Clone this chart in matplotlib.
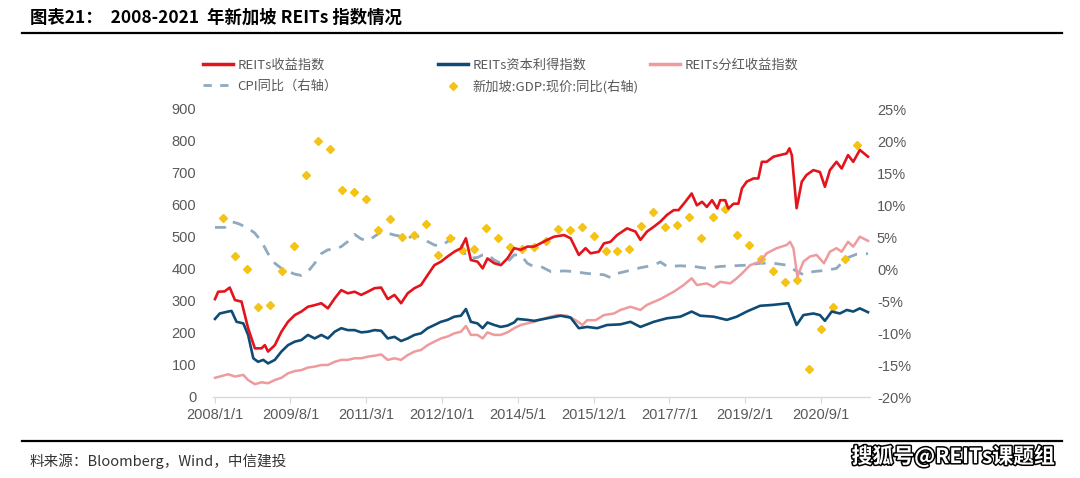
import matplotlib
matplotlib.use("Agg")
import matplotlib.pyplot as plt
import matplotlib.patheffects as pe
from matplotlib.lines import Line2D

plt.rcParams['font.family'] = ['Liberation Sans', 'Noto Sans CJK SC', 'DejaVu Sans']

# ---- data: x = months since 2008/1/1 ----
tick_pos = [0, 19, 38, 57, 76, 95, 114, 133, 152]
tick_labels = ['2008/1/1', '2009/8/1', '2011/3/1', '2012/10/1', '2014/5/1',
               '2015/12/1', '2017/7/1', '2019/2/1', '2020/9/1']

# REITs收益指数 (left axis)
red_m = [0.1, 0.9, 2.5, 3.8, 5.1, 6.75, 8.4, 10.1, 11.75, 12.6, 13.4, 15.1, 16.75, 18.4,
         20.1, 21.75, 23.4, 25.1, 26.75, 28.4, 30.1, 31.75, 33.4, 35.1, 36.75, 38.4, 40.1,
         41.75, 43.4, 45.1, 46.75, 48.4, 50.1, 51.75, 53.4, 55.1, 56.75, 58.4, 60.1, 61.75,
         63.0, 64.25, 65.9, 67.2, 68.4, 70.1, 71.75, 73.4, 75.1, 76.75, 78.4, 80.1, 83.4,
         85.1, 87.6, 89.25, 91.3, 93.0, 94.25, 96.3, 97.6, 99.25, 100.9, 103.4, 105.5,
         106.75, 108.4, 110.1, 111.75, 113.4, 115.1, 116.3, 118.0, 119.6, 120.9, 122.2,
         123.4, 124.7, 126.0, 126.75, 128.0, 128.8, 130.1, 131.3, 132.2, 133.4, 135.1,
         136.3, 137.2, 138.4, 140.1, 141.75, 143.4, 144.1, 144.7, 145.9, 147.2, 148.4,
         150.1, 151.75, 153.0, 154.25, 155.9, 157.2, 158.8, 160.1, 161.75, 163.8]
red_v = [306, 329, 330, 342, 303, 298, 215, 152, 152, 162, 142, 162, 204, 235,
         256, 267, 282, 287, 293, 277, 308, 334, 324, 329, 319, 329, 340,
         342, 306, 319, 293, 324, 340, 350, 381, 412, 423, 439, 454, 465,
         496, 428, 423, 402, 433, 418, 412, 433, 465, 460, 470, 470, 491,
         501, 506, 496, 444, 465, 449, 454, 480, 485, 506, 527, 517,
         491, 517, 532, 548, 569, 584, 584, 610, 636, 599, 610,
         594, 615, 589, 615, 615, 589, 604, 604, 652, 673, 683,
         683, 735, 735, 751, 756, 761, 777, 756, 590, 673, 694,
         709, 703, 657, 709, 735, 714, 756, 735, 772, 751]

# REITs资本利得指数 (left axis)
blue_m = [0.1, 1.3, 3.4, 4.25, 5.5, 7.2, 8.4, 9.7, 10.9, 12.2, 13.4, 15.1, 16.75, 18.4,
          20.1, 21.75, 23.4, 25.1, 26.75, 28.4, 30.1, 31.75, 33.4, 35.1, 36.75, 38.4,
          40.1, 41.75, 43.4, 45.1, 46.75, 48.4, 50.1, 51.75, 53.4, 55.1, 56.75, 58.4,
          60.1, 61.75, 63.0, 64.25, 65.9, 67.2, 68.4, 70.1, 71.75, 73.4, 75.1, 75.9,
          78.4, 80.1, 83.4, 86.75, 89.25, 91.3, 93.4, 95.9, 98.4, 101.75, 104.25, 106.75,
          110.1, 113.4, 116.75, 119.6, 121.75, 125.1, 128.4, 130.9, 133.4, 136.75, 140.1,
          143.8, 145.9, 147.6, 150.1, 151.75, 153.0, 154.7, 156.75, 158.5, 160.1, 161.75,
          163.8]
blue_v = [244, 261, 267, 269, 235, 230, 194, 121, 110, 116, 105, 116, 142, 162,
          173, 178, 194, 183, 194, 183, 204, 215, 209, 209, 202, 204,
          209, 207, 183, 188, 175, 183, 194, 199, 215, 225, 235, 241,
          251, 254, 275, 235, 230, 215, 233, 225, 219, 223, 233, 244,
          241, 238, 246, 254, 248, 215, 219, 215, 225, 227, 235, 219,
          235, 246, 251, 267, 254, 251, 241, 251, 267, 285, 288,
          293, 225, 256, 261, 256, 238, 267, 261, 272, 267, 277,
          265]

# REITs分红收益指数 (left axis)
pink_m = [0.1, 3.4, 5.1, 7.2, 8.4, 10.1, 11.75, 13.4, 15.1, 16.75, 18.4, 20.1, 21.75,
          23.4, 25.1, 26.75, 28.4, 30.1, 31.75, 33.4, 35.1, 36.75, 38.4, 40.1, 41.75,
          43.4, 45.1, 46.75, 48.4, 50.1, 51.75, 53.4, 55.1, 56.75, 58.4, 60.1, 61.75,
          63.0, 64.25, 65.9, 67.2, 68.4, 70.1, 71.75, 73.4, 75.1, 76.75, 78.4, 80.1,
          83.4, 85.9, 88.4, 90.5, 92.2, 93.4, 95.5, 97.6, 100.1, 101.75, 104.25, 106.75,
          108.4, 111.75, 115.1, 117.6, 119.6, 120.9, 123.4, 125.1, 126.75, 129.25, 130.9,
          132.2, 134.25, 136.75, 138.4, 140.9, 143.4, 144.25, 145.1, 146.1, 147.6, 149.25,
          150.9, 152.75, 154.25, 155.9, 157.2, 158.8, 160.1, 161.75, 163.8]
pink_v = [60, 71, 64, 69, 53, 40, 46, 43, 53, 60, 74, 81, 84,
          92, 95, 100, 100, 110, 116, 116, 121, 121, 126, 129, 133,
          116, 121, 116, 131, 142, 147, 162, 173, 183, 189, 199, 204,
          222, 194, 194, 183, 202, 194, 194, 202, 215, 225, 230, 235,
          248, 256, 254, 240, 225, 240, 240, 256, 261, 272, 282, 272,
          288, 306, 329, 350, 371, 350, 355, 344, 360, 355, 371,
          386, 412, 423, 449, 465, 475, 485, 465, 376, 423, 439,
          444, 418, 454, 465, 454, 485, 470, 501, 488]

# CPI同比 (right axis, %)
cpi_m = [0.1, 2.6, 4.25, 5.9, 8.4, 10.1, 11.75, 13.4, 15.1, 16.75, 18.4, 20.1, 21.75,
         23.4, 25.1, 26.75, 28.4, 30.1, 31.75, 33.4, 35.1, 36.75, 38.4, 40.1, 41.75,
         43.4, 45.1, 46.75, 48.4, 50.1, 51.75, 53.4, 55.1, 56.75, 58.4, 60.1, 61.75,
         63.0, 64.25, 65.9, 67.2, 68.4, 70.1, 71.75, 73.4, 75.1, 76.75, 78.4, 79.25,
         81.75, 84.25, 87.6, 90.1, 93.4, 97.6, 99.25, 100.9, 104.25, 106.75, 110.1,
         111.75, 113.4, 116.75, 120.1, 123.4, 126.75, 130.1, 133.4, 136.75, 140.1, 143.4,
         145.5, 147.6, 150.1, 153.4, 155.9, 158.4, 160.9, 163.8]
cpi_v = [6.5, 6.5, 7.4, 7.1, 6.4, 5.6, 4.3, 2.4, 0.9, 0.1, -0.4, -0.8, -1.0,
         -0.4, 0.9, 2.4, 3.0, 3.1, 3.5, 4.3, 5.4, 4.7, 4.4, 5.1, 5.8,
         5.6, 5.3, 5.1, 4.8, 5.3, 4.9, 4.3, 3.75, 3.6, 4.3, 4.8, 4.0,
         1.9, 1.7, 1.8, 2.2, 2.3, 1.4, 0.9, 1.1, 2.2, 2.2, 0.9, 0.6,
         0.4, -0.4, -0.3, -0.4, -0.7, -0.9, -1.35, -0.7, -0.2, 0.2, 0.6,
         1.1, 0.4, 0.5, 0.4, 0.1, 0.4, 0.5, 0.6, 0.9, 0.9, 0.6,
         -0.2, -0.9, -0.4, -0.2, 0.1, 1.7, 2.3, 2.4]

# 新加坡:GDP:现价:同比 (right axis, %), quarterly from 2008/3
gdp_m = list(range(2, 162, 3))
gdp_v = [8.0, 2.1, 0.0, -6.0, -5.7, -0.3, 3.6, 14.7, 20.0, 18.75, 12.4, 12.1, 10.9,
         6.1, 7.8, 5.05, 5.3, 7.1, 2.2, 4.9, 3.0, 3.2, 6.35, 4.8, 3.5, 3.1,
         3.5, 4.4, 6.25, 6.1, 6.6, 5.2, 2.8, 2.8, 3.2, 6.7, 8.85, 6.5, 6.9, 8.2,
         4.9, 8.1, 9.4, 5.3, 3.75, 1.6, -0.3, -2.0, -1.7, -15.6, -9.4, -6.0, 1.6, 19.4]

RED = '#E3141B'
BLUE = '#0F4C75'
PINK = '#EF9A9C'
CPI_C = '#8FA9BF'
GOLD = '#F3C316'
GRAY = '#595959'

fig = plt.figure(figsize=(10.8, 4.78), dpi=100)
ax = fig.add_axes([213 / 1080, 1 - 397 / 478, 657 / 1080, 288 / 478])
ax2 = ax.twinx()

ax2.plot(cpi_m, cpi_v, color=CPI_C, lw=2.0, dashes=(4, 3.2), zorder=1)
ax2.plot(gdp_m, gdp_v, ls='none', marker='D', ms=3.7, color=GOLD, mec=GOLD, zorder=2)
ax.set_zorder(ax2.get_zorder() + 1)
ax.patch.set_visible(False)
ax.plot(pink_m, pink_v, color=PINK, lw=1.8)
ax.plot(blue_m, blue_v, color=BLUE, lw=1.9)
ax.plot(red_m, red_v, color=RED, lw=1.9)

ax.set_xlim(-0.4, 164.3)
ax.set_ylim(0, 900)
ax.set_yticks(range(0, 901, 100))
ax2.set_ylim(-20, 25)
ax2.set_yticks(range(-20, 26, 5))
ax2.set_yticklabels([f'{v}%' for v in range(-20, 26, 5)])
ax.set_xticks(tick_pos)
ax.set_xticklabels(tick_labels)

for a in (ax, ax2):
    for s in ('top', 'left', 'right', 'bottom'):
        a.spines[s].set_visible(False)
ax.spines['bottom'].set_visible(True)
ax.spines['bottom'].set_color('#D9D9D9')
ax.spines['bottom'].set_linewidth(1.0)
ax.tick_params(axis='x', colors='#D9D9D9', length=4, direction='out', labelcolor=GRAY,
               labelsize=10.5, pad=4)
ax.tick_params(axis='y', length=0, labelcolor=GRAY, labelsize=10.5, pad=12)
ax2.tick_params(axis='y', length=0, labelcolor=GRAY, labelsize=10.5, pad=5)

# legend: three columns placed separately
legend_cols = [
    ([Line2D([], [], color=RED, lw=2.5), Line2D([], [], color=CPI_C, lw=2.0, dashes=(3, 3))],
     ['REITs收益指数', 'CPI同比（右轴）'], 191),
    ([Line2D([], [], color=BLUE, lw=2.5), Line2D([], [], ls='none', marker='D', ms=3.7, color=GOLD)],
     ['REITs资本利得指数', '新加坡:GDP:现价:同比(右轴)'], 426),
    ([Line2D([], [], color=PINK, lw=2.5)], ['REITs分红收益指数'], 638),
]
for hs, ls, x0 in legend_cols:
    leg = fig.legend(hs, ls, loc='upper left', bbox_to_anchor=(x0 / 1080, 1 - 47 / 478),
                     frameon=False, prop={'family': ['Noto Sans CJK SC'], 'size': 9.5},
                     handlelength=2.3, handletextpad=0.3, labelspacing=0.62)
    for t in leg.get_texts():
        t.set_color(GRAY)

# title, rules, source, watermark
fig.text(30 / 1080, 1 - 18 / 478, '图表21：  2008-2021  年新加坡 REITs 指数情况', ha='left', va='center',
         family=['Noto Sans CJK SC'], fontweight='bold', fontsize=12.5, color='black')
fig.add_artist(Line2D([22 / 1080, 1062 / 1080], [1 - 33 / 478, 1 - 33 / 478], color='black', lw=1.6))
fig.add_artist(Line2D([22 / 1080, 1062 / 1080], [1 - 441 / 478, 1 - 441 / 478], color='black', lw=1.6))
fig.text(30 / 1080, 1 - 461 / 478, '料来源：Bloomberg，Wind，中信建投', ha='left', va='center',
         family=['Noto Sans CJK SC'], fontsize=10.5, color='#333333', style='italic')
fig.text(1055 / 1080, 1 - 456 / 478, '搜狐号@REITs课题组', ha='right', va='center',
         family=['Noto Sans CJK SC'], fontweight='bold', fontsize=15, color='white',
         path_effects=[pe.withStroke(linewidth=2.2, foreground='black')])

fig.savefig('out.png', dpi=100)
